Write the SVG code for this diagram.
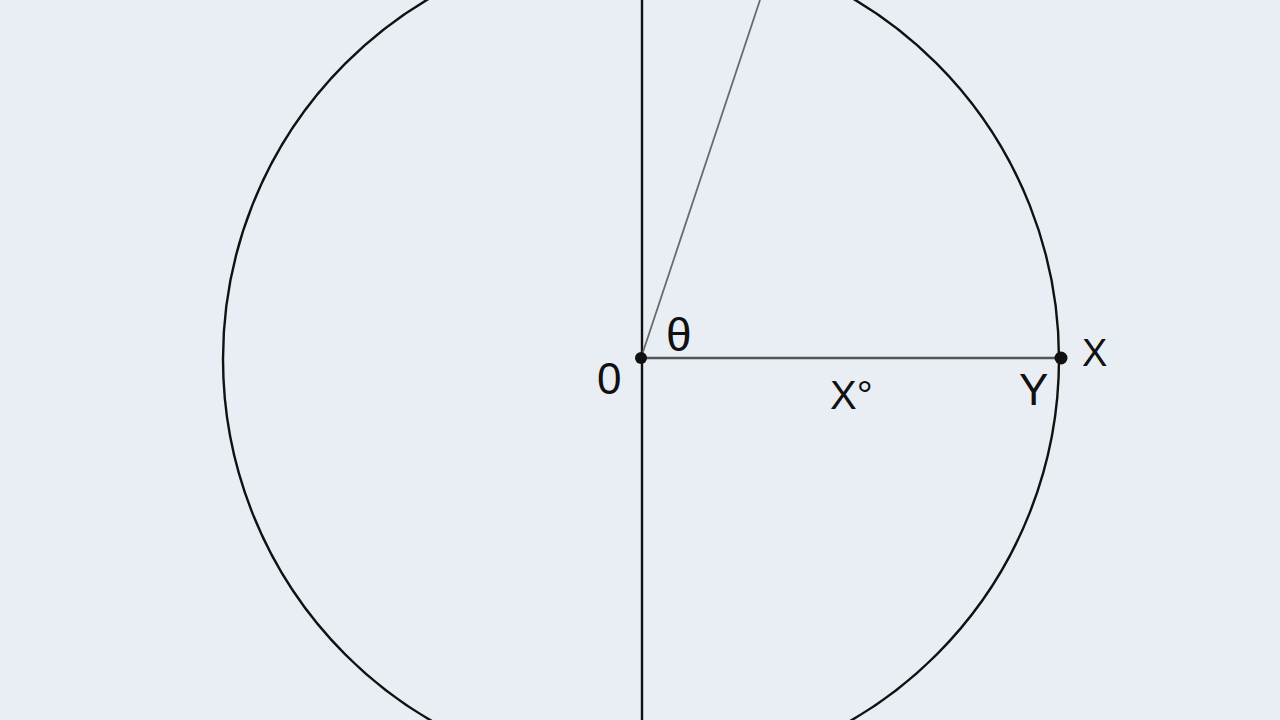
<svg xmlns="http://www.w3.org/2000/svg" width="1280" height="720" viewBox="0 0 1280 720">
<style>
.lbl{font-family:"Liberation Sans",Arial,sans-serif;fill:#111;}
</style>
<rect width="1280" height="720" fill="#e9eef5"/>
<g id="circle"><circle cx="641" cy="359" r="418" fill="none" stroke="#111" stroke-width="2.4"/></g>
<g id="connectors">
<line x1="642" y1="0" x2="642" y2="720" stroke="#111" stroke-width="2.4"/>
<line x1="641" y1="358" x2="760" y2="0" stroke="#6a6a6a" stroke-width="1.8"/>
<line x1="641" y1="358" x2="1061" y2="358" stroke="#555" stroke-width="2.4"/>
</g>
<g id="origin"><circle cx="641" cy="358" r="6" fill="#111"/><text class="lbl" x="597" y="394" font-size="44">0</text></g>
<g id="pointX"><circle cx="1061" cy="358" r="6.5" fill="#111"/><text class="lbl" x="1082" y="366" font-size="38">X</text></g>
<g id="theta"><text class="lbl" x="666" y="351" font-size="46">θ</text></g>
<g id="xdeg"><text class="lbl" x="830" y="409" font-size="40">X°</text></g>
<g id="labelY"><text class="lbl" x="1019" y="405" font-size="44">Y</text></g>
</svg>
